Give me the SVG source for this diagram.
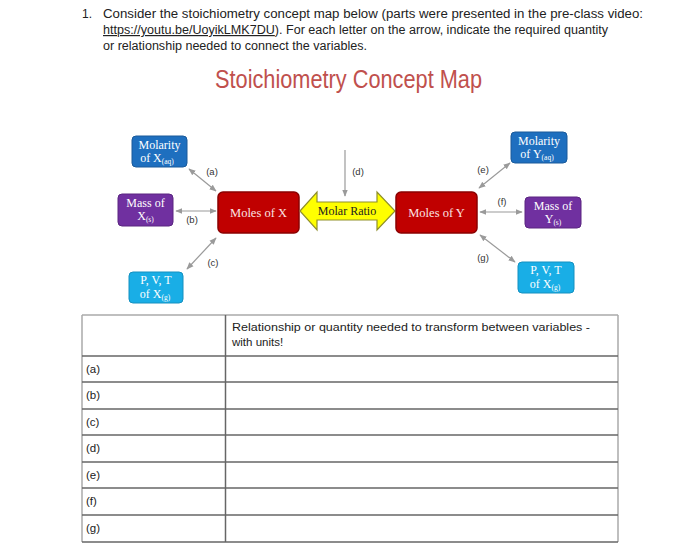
<svg xmlns="http://www.w3.org/2000/svg" width="700" height="548" viewBox="0 0 700 548">
<style>
.q{font-family:"Liberation Sans",Arial,sans-serif;font-size:12px;fill:#222}
.title{font-family:"Liberation Sans",Arial,sans-serif;font-size:25px;fill:#c0504d}
.nt{font-family:"Liberation Serif","Times New Roman",serif;font-size:12px;fill:#fff;text-anchor:middle}
.sub{font-size:7.5px}
.lbl{font-family:"Liberation Sans",Arial,sans-serif;font-size:9.5px;fill:#333;text-anchor:middle}
.conn{stroke:#9a9a9a;stroke-width:1.2;fill:none}
.tl{stroke:#666;stroke-width:1.5}
.tlight{stroke:#aaa;stroke-width:1.5}
.cell{font-family:"Liberation Sans",Arial,sans-serif;font-size:11.5px;fill:#222}
.mol{fill:#1e6fbf;stroke:#1a5a9a;stroke-width:1}
.mass{fill:#7030a0;stroke:#5a2580;stroke-width:1}
.moles{fill:#c00000;stroke:#8a0000;stroke-width:1.5}
.pvt{fill:#19aee6;stroke:#1490c0;stroke-width:1}
</style>
<defs>
<marker id="ah" viewBox="0 0 10 10" refX="9" refY="5" markerWidth="6" markerHeight="6" orient="auto-start-reverse">
<path d="M0,1 L10,5 L0,9 Z" fill="#9a9a9a"/>
</marker>
</defs>
<rect width="700" height="548" fill="#fff"/>

<g id="question">
<text class="q" x="82" y="18">1.</text>
<text class="q" x="103" y="18" textLength="540" lengthAdjust="spacingAndGlyphs">Consider the stoichiometry concept map below (parts were presented in the pre-class video:</text>
<text class="q" x="103" y="34" textLength="505" lengthAdjust="spacingAndGlyphs"><tspan text-decoration="underline">https://youtu.be/UoyikLMK7DU</tspan>). For each letter on the arrow, indicate the required quantity</text>
<text class="q" x="103" y="50" textLength="264" lengthAdjust="spacingAndGlyphs">or relationship needed to connect the variables.</text>
</g>

<text class="title" x="215" y="88" textLength="267" lengthAdjust="spacingAndGlyphs">Stoichiometry Concept Map</text>

<g id="connectors">
<line class="conn" x1="189" y1="169" x2="216" y2="191" marker-start="url(#ah)" marker-end="url(#ah)"/>
<line class="conn" x1="176" y1="211" x2="216" y2="211" marker-start="url(#ah)" marker-end="url(#ah)"/>
<line class="conn" x1="216" y1="238" x2="187" y2="269" marker-start="url(#ah)" marker-end="url(#ah)"/>
<line class="conn" x1="345" y1="150" x2="345" y2="196" marker-end="url(#ah)"/>
<line class="conn" x1="479" y1="188" x2="510" y2="163" marker-start="url(#ah)" marker-end="url(#ah)"/>
<line class="conn" x1="480" y1="212" x2="522" y2="212" marker-start="url(#ah)" marker-end="url(#ah)"/>
<line class="conn" x1="480" y1="235" x2="515" y2="262" marker-start="url(#ah)" marker-end="url(#ah)"/>
<text class="lbl" x="212" y="175">(a)</text>
<text class="lbl" x="192" y="223">(b)</text>
<text class="lbl" x="213" y="266">(c)</text>
<text class="lbl" x="358" y="175">(d)</text>
<text class="lbl" x="483" y="173">(e)</text>
<text class="lbl" x="502" y="205">(f)</text>
<text class="lbl" x="483" y="261">(g)</text>
</g>

<g id="molarity-x">
<rect class="mol" x="132" y="136" width="55" height="31" rx="4"/>
<text class="nt" x="159.5" y="149">Molarity</text>
<text class="nt" x="157" y="162">of X<tspan class="sub" dy="2">(aq)</tspan></text>
</g>
<g id="mass-x">
<rect class="mass" x="118" y="194" width="55" height="32" rx="4"/>
<text class="nt" x="145.5" y="207">Mass of</text>
<text class="nt" x="145.5" y="220">X<tspan class="sub" dy="2">(s)</tspan></text>
</g>
<g id="pvt-x-left">
<rect class="pvt" x="129" y="272" width="54" height="31" rx="4"/>
<text class="nt" x="156" y="284">P, V, T</text>
<text class="nt" x="155" y="298">of X<tspan class="sub" dy="2">(g)</tspan></text>
</g>
<g id="moles-x">
<rect class="moles" x="218" y="192" width="81" height="41" rx="5"/>
<text class="nt" x="258.5" y="216.5" style="font-size:12.5px;fill:#fbe4e4">Moles of X</text>
</g>
<g id="molar-ratio">
<path d="M300,211 L317,192 L317,202 L377,202 L377,192 L395,211 L377,230 L377,220 L317,220 L317,230 Z" fill="#ffff00" stroke="#8f8f2a" stroke-width="1.2"/>
<text class="nt" x="347" y="215" style="fill:#222;font-size:12px">Molar Ratio</text>
</g>
<g id="moles-y">
<rect class="moles" x="396" y="192" width="81" height="41" rx="5"/>
<text class="nt" x="436.5" y="216.5" style="font-size:12.5px;fill:#fbe4e4">Moles of Y</text>
</g>
<g id="molarity-y">
<rect class="mol" x="511" y="132" width="56" height="31" rx="4"/>
<text class="nt" x="539" y="145">Molarity</text>
<text class="nt" x="537" y="158">of Y<tspan class="sub" dy="2">(aq)</tspan></text>
</g>
<g id="mass-y">
<rect class="mass" x="525" y="197" width="56" height="31" rx="4"/>
<text class="nt" x="553" y="210">Mass of</text>
<text class="nt" x="553" y="223">Y<tspan class="sub" dy="2">(s)</tspan></text>
</g>
<g id="pvt-x-right">
<rect class="pvt" x="518" y="262" width="56" height="31" rx="4"/>
<text class="nt" x="546" y="274">P, V, T</text>
<text class="nt" x="545" y="288">of X<tspan class="sub" dy="2">(g)</tspan></text>
</g>

<g id="table">
<line class="tlight" x1="82" y1="315" x2="618" y2="315"/>
<line class="tlight" x1="82" y1="315" x2="82" y2="542"/>
<line class="tlight" x1="618" y1="315" x2="618" y2="542"/>
<line class="tl" x1="225.5" y1="315" x2="225.5" y2="542"/>
<line class="tl" x1="82" y1="356" x2="618" y2="356"/>
<line class="tl" x1="82" y1="382" x2="618" y2="382"/>
<line class="tl" x1="82" y1="409" x2="618" y2="409"/>
<line class="tl" x1="82" y1="435" x2="618" y2="435"/>
<line class="tl" x1="82" y1="462" x2="618" y2="462"/>
<line class="tl" x1="82" y1="488" x2="618" y2="488"/>
<line class="tl" x1="82" y1="515" x2="618" y2="515"/>
<line class="tl" x1="82" y1="542" x2="618" y2="542"/>
<text class="cell" x="232" y="331" textLength="358" lengthAdjust="spacingAndGlyphs">Relationship or quantity needed to transform between variables -</text>
<text class="cell" x="232" y="346">with units!</text>
<text class="cell" x="86" y="373">(a)</text>
<text class="cell" x="86" y="399">(b)</text>
<text class="cell" x="86" y="426">(c)</text>
<text class="cell" x="86" y="452">(d)</text>
<text class="cell" x="86" y="479">(e)</text>
<text class="cell" x="86" y="505">(f)</text>
<text class="cell" x="86" y="532">(g)</text>
</g>
</svg>
